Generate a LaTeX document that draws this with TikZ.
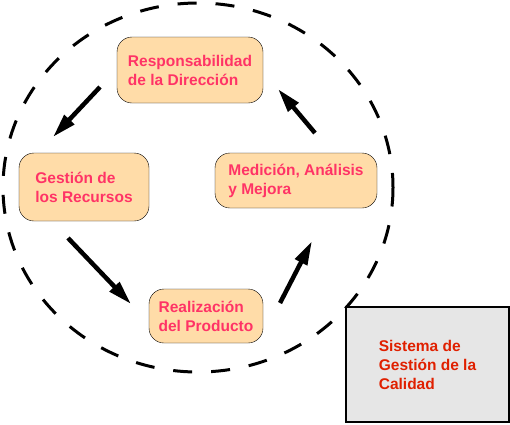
\documentclass[tikz,border=0pt]{standalone}
\usepackage[dvipsnames,svgnames]{xcolor}
\usepackage{fontspec}
\setmainfont{Liberation Sans}
\usetikzlibrary{arrows.meta}
\definecolor{boxfill}{HTML}{FFDCA8}
\definecolor{boxtext}{HTML}{FF3366}
\definecolor{sgctext}{HTML}{E02000}
\definecolor{sgcfill}{HTML}{E6E6E6}

\begin{document}
\begin{tikzpicture}[x=1pt,y=-1pt,
  proc/.style={draw,fill=boxfill,rounded corners=15pt,inner sep=0pt,
    align=left,text=boxtext,font=\fontsize{15.5}{19}\selectfont\bfseries},
  flow/.style={line width=4.5pt,-{Triangle[length=24pt,width=13pt]}}]
  \useasboundingbox (0,0) rectangle (510,424);
  \draw[line width=3pt,dash pattern=on 19pt off 19pt] (198,187.5) ellipse (195 and 184.5);
  \node[proc,minimum width=146pt,minimum height=66pt] (resp) at (190,70)
    {Responsabilidad\\de la Dirección};
  \node[proc,minimum width=130pt,minimum height=68pt] (recu) at (84,187)
    {Gestión de\\los Recursos};
  \node[proc,minimum width=162pt,minimum height=55pt] (medi) at (296,180.5)
    {Medición, Análisis\\y Mejora};
  \node[proc,minimum width=114pt,minimum height=54pt] (real) at (206,316)
    {Realización\\del Producto};
  \node[draw,line width=2pt,fill=sgcfill,minimum width=163pt,minimum height=115pt,
    inner sep=0pt,align=left,text=sgctext,
    font=\fontsize{15.5}{19}\selectfont\bfseries] (sgc) at (427.5,364.5)
    {Sistema de\\Gestión de la\\Calidad};
  \coordinate (a1) at (100,87);  \coordinate (b1) at (53,137);
  \coordinate (a2) at (315,133); \coordinate (b2) at (278,89);
  \coordinate (a3) at (68,238);  \coordinate (b3) at (131,304);
  \coordinate (a4) at (280,303); \coordinate (b4) at (312,241);
  \draw[flow] (a1) -- (b1);
  \draw[flow] (a2) -- (b2);
  \draw[flow] (a3) -- (b3);
  \draw[flow] (a4) -- (b4);
\end{tikzpicture}
\end{document}
